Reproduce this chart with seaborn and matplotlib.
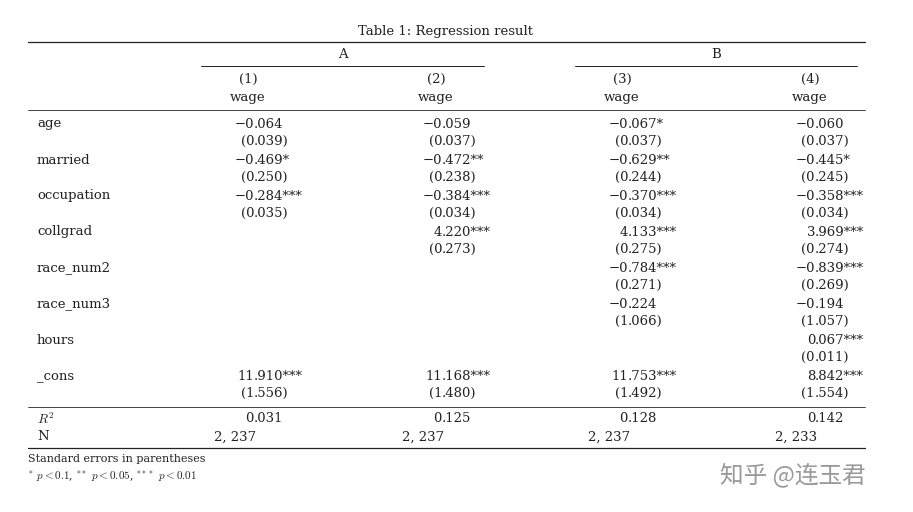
import matplotlib
matplotlib.use("Agg")
import matplotlib.pyplot as plt
import seaborn as sns

sns.set_theme(style="white")
plt.rcParams['font.family'] = ['DejaVu Serif', 'Noto Sans CJK SC']
plt.rcParams['mathtext.fontset'] = 'cm'

variables = ["age", "married", "occupation", "collgrad", "race_num2", "race_num3", "hours", "_cons"]
coef = [
    ["−0.064", "−0.469*", "−0.284***", "", "", "", "", "11.910***"],
    ["−0.059", "−0.472**", "−0.384***", "4.220***", "", "", "", "11.168***"],
    ["−0.067*", "−0.629**", "−0.370***", "4.133***", "−0.784***", "−0.224", "", "11.753***"],
    ["−0.060", "−0.445*", "−0.358***", "3.969***", "−0.839***", "−0.194", "0.067***", "8.842***"],
]
se = [
    ["(0.039)", "(0.250)", "(0.035)", "", "", "", "", "(1.556)"],
    ["(0.037)", "(0.238)", "(0.034)", "(0.273)", "", "", "", "(1.480)"],
    ["(0.037)", "(0.244)", "(0.034)", "(0.275)", "(0.271)", "(1.066)", "", "(1.492)"],
    ["(0.037)", "(0.245)", "(0.034)", "(0.274)", "(0.269)", "(1.057)", "(0.011)", "(1.554)"],
]
r2 = ["0.031", "0.125", "0.128", "0.142"]
nobs = ["2, 237", "2, 237", "2, 237", "2, 233"]
col_labels = ["(1)", "(2)", "(3)", "(4)"]
groups = ["A", "B"]

W, H = 913, 512
fig = plt.figure(figsize=(W/100, H/100), dpi=100)
fig.patch.set_facecolor("white")
ax = fig.add_axes([0, 0, 1, 1])
ax.set_xlim(0, W); ax.set_ylim(H, 0); ax.axis("off")
fs = 9.5
def t(x, y, s, ha="left", **kw):
    ax.text(x, y, s, ha=ha, va="center", fontsize=kw.pop("size", fs), color=kw.pop("color", "#222"), **kw)

t(446, 31, "Table 1: Regression result", ha="center")
ax.plot([28, 865], [42, 42], color="#222", lw=0.9)
t(343, 54, groups[0], ha="center"); t(716, 54, groups[1], ha="center")
ax.plot([201, 484], [66, 66], color="#222", lw=0.7)
ax.plot([575, 857], [66, 66], color="#222", lw=0.7)
centers = [248, 436, 622, 810]
dec = [254, 442, 628, 815]
for c, lab in zip(centers, col_labels):
    t(c, 79, lab, ha="center"); t(c, 97, "wage", ha="center")
ax.plot([28, 865], [110, 110], color="#222", lw=0.6)

def dnum(x, y, s):
    if not s: return
    i = s.index(".")
    t(x, y, s[:i], ha="right"); t(x, y, s[i:], ha="left")

for r, v in enumerate(variables):
    y = 124 + 36*r
    t(37, y, v)
    for j in range(4):
        dnum(dec[j], y, coef[j][r]); dnum(dec[j], y+17, se[j][r])
ax.plot([28, 865], [407, 407], color="#222", lw=0.6)
t(37, 419, r"$R^2$")
t(37, 437, "N")
for j in range(4):
    dnum(dec[j], 419, r2[j])
    t(dec[j]-40, 437, nobs[j])
ax.plot([28, 865], [448, 448], color="#222", lw=0.9)
t(28, 459, "Standard errors in parentheses", size=8)
t(28, 477, r"$^{*}$ $p<0.1$, $^{**}$ $p<0.05$, $^{***}$ $p<0.01$", size=8)
t(720, 475, "知乎 @连玉君", size=17, color="#999999", family=['Noto Sans CJK SC'])
fig.savefig("out.png", dpi=100, facecolor="white")
